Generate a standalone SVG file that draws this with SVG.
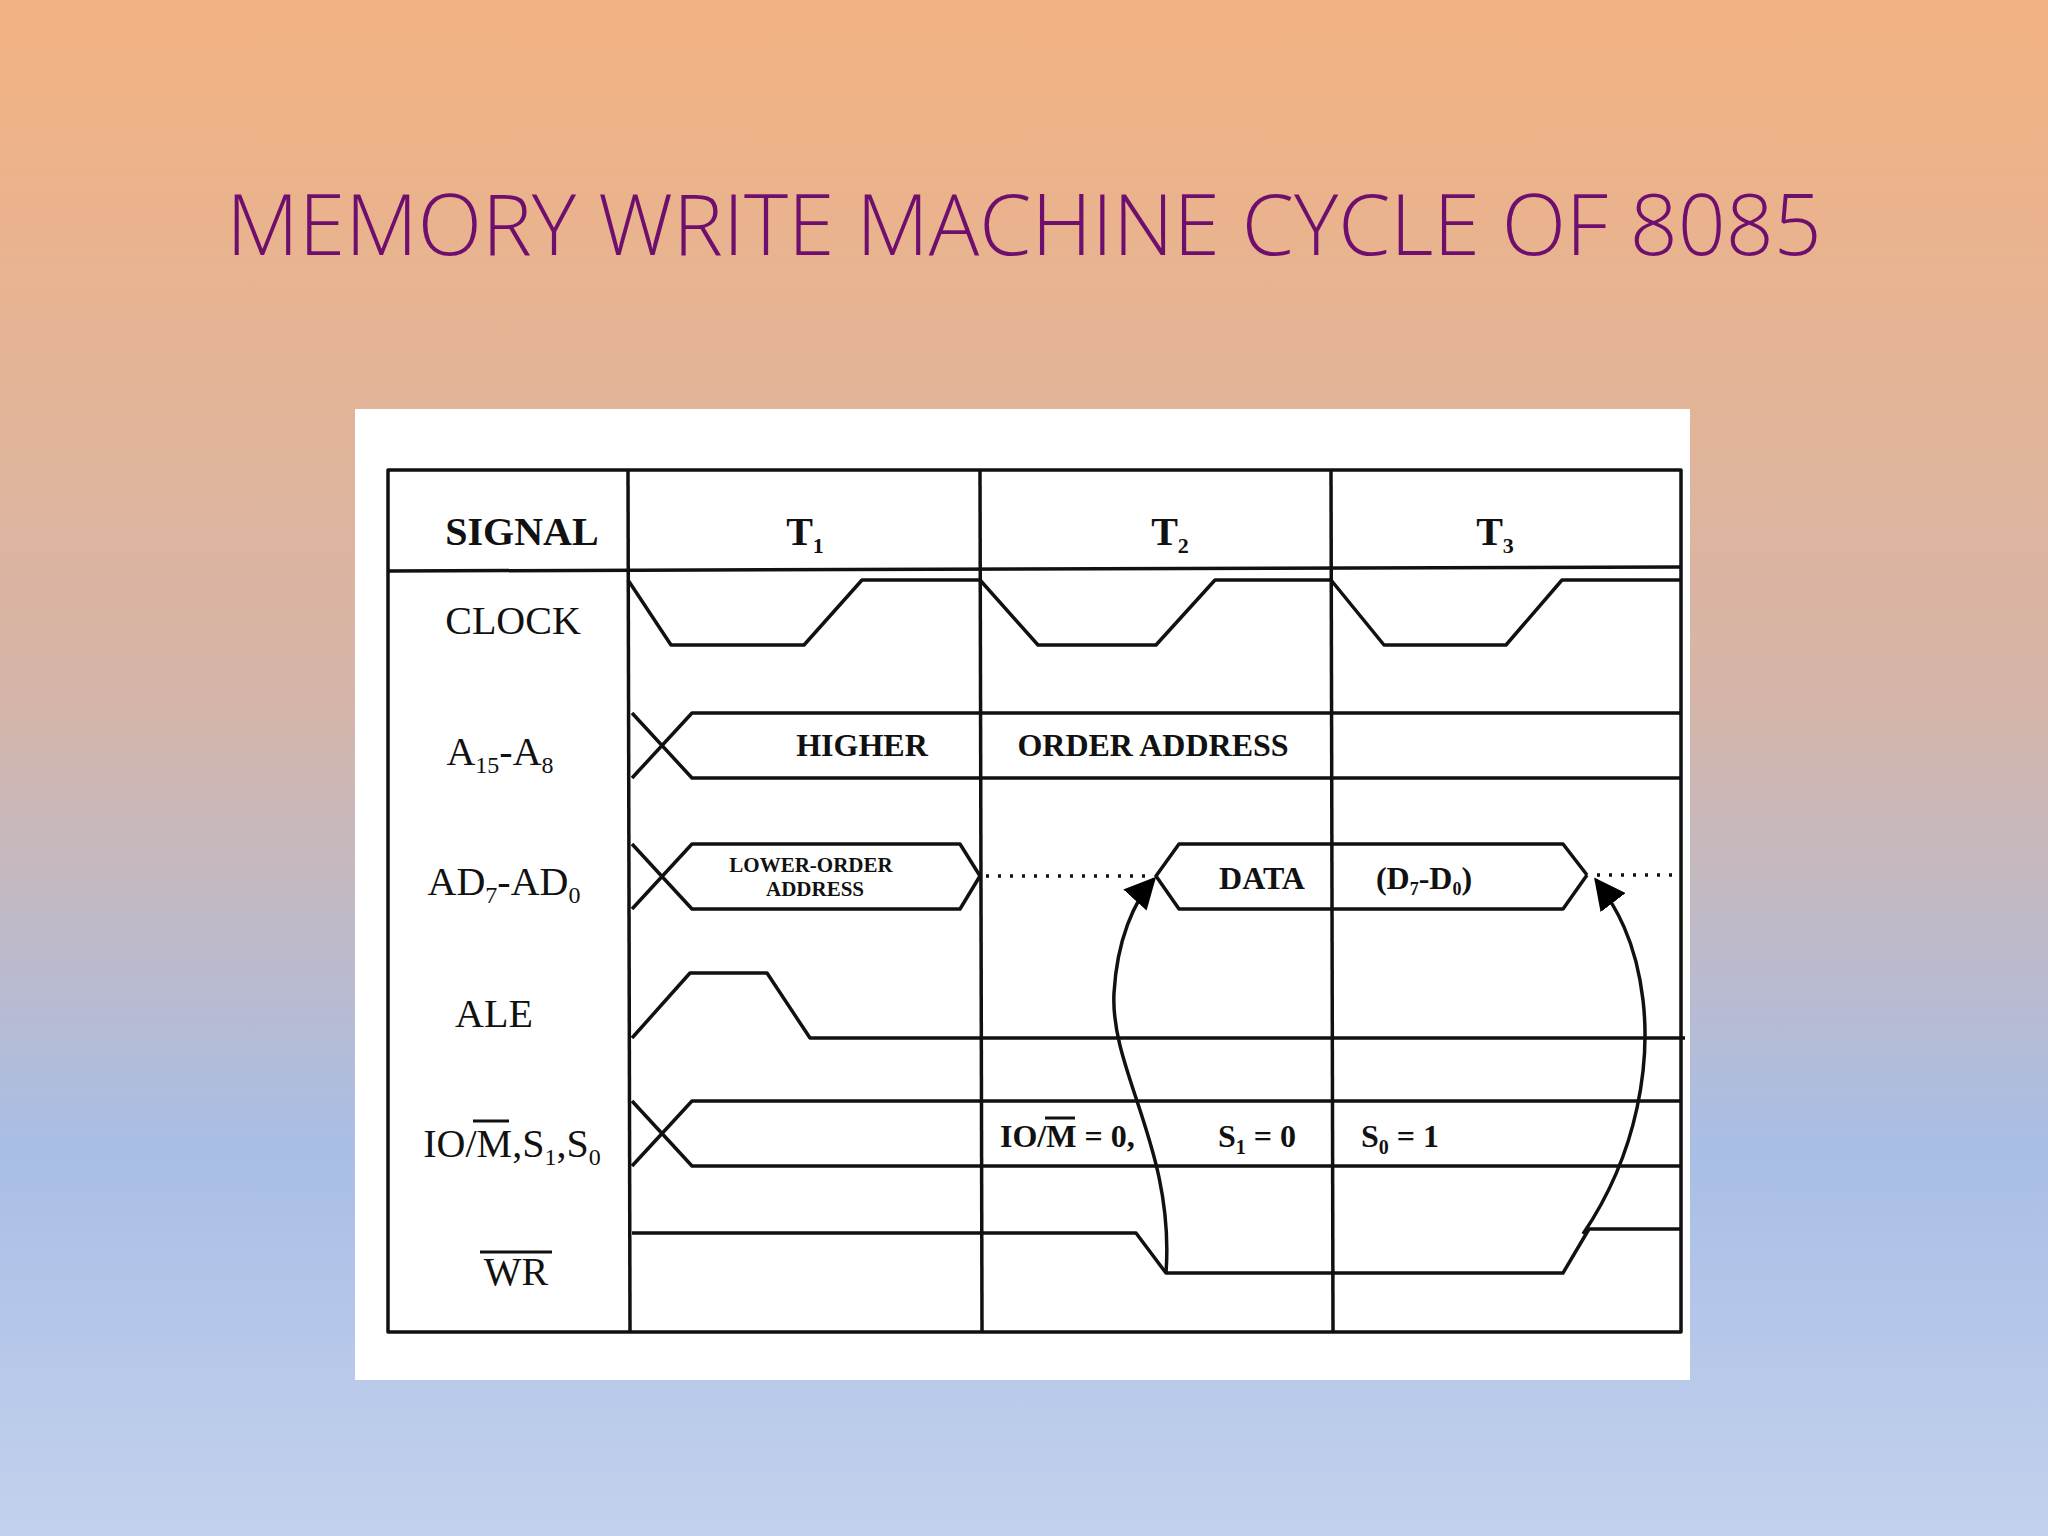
<svg xmlns="http://www.w3.org/2000/svg" width="2048" height="1536" viewBox="0 0 2048 1536">
<defs>
<linearGradient id="bg" x1="0" y1="0" x2="0" y2="1">
<stop offset="0" stop-color="#f3b281"/>
<stop offset="0.45" stop-color="#d6b5a8"/>
<stop offset="0.75" stop-color="#a9bee6"/>
<stop offset="1" stop-color="#c3d1ec"/>
</linearGradient>
<marker id="ah" viewBox="0 0 10 10" refX="9" refY="5" markerWidth="9" markerHeight="9" orient="auto"><path d="M0,0 L10,5 L0,10 z" fill="#000"/></marker>
<style>
.ln{fill:none;stroke:#111;stroke-width:3.5;stroke-linejoin:round}
.dot{fill:none;stroke:#111;stroke-width:3.5;stroke-dasharray:3 9}
.lb{font-family:"Liberation Serif",serif;font-size:40px;fill:#111;text-anchor:middle}
.hd{font-family:"Liberation Serif",serif;font-size:40px;font-weight:bold;fill:#111;text-anchor:middle}
.sm{font-family:"Liberation Serif",serif;font-size:32px;font-weight:bold;fill:#111;text-anchor:middle}
.st{text-anchor:start}
.xs{font-family:"Liberation Serif",serif;font-size:21px;font-weight:bold;fill:#111;text-anchor:middle}
</style>
</defs>
<rect width="2048" height="1536" fill="url(#bg)"/>
<text x="1024" y="255" font-family="'Open Sans',sans-serif" font-weight="300" font-size="84" fill="#6e0f6e" text-anchor="middle">MEMORY WRITE MACHINE CYCLE OF 8085</text>
<rect x="355" y="409" width="1335" height="971" fill="#fff"/>
<g id="table" class="ln">
<rect x="388" y="470" width="1293" height="862"/>
<line x1="388" y1="571" x2="1681" y2="567"/>
<line x1="628" y1="470" x2="630" y2="1332"/>
<line x1="980" y1="470" x2="982" y2="1332"/>
<line x1="1331" y1="470" x2="1333" y2="1332"/>
</g>
<g id="labels">
<text class="hd" x="522" y="545">SIGNAL</text>
<text class="hd" x="805" y="545">T<tspan font-size="22" dy="8">1</tspan></text>
<text class="hd" x="1170" y="545">T<tspan font-size="22" dy="8">2</tspan></text>
<text class="hd" x="1495" y="545">T<tspan font-size="22" dy="8">3</tspan></text>
<text class="lb" x="513" y="634">CLOCK</text>
<text class="lb" x="500" y="765">A<tspan font-size="24" dy="8">15</tspan><tspan dy="-8">-A</tspan><tspan font-size="24" dy="8">8</tspan></text>
<text class="lb" x="504" y="895">AD<tspan font-size="24" dy="8">7</tspan><tspan dy="-8">-AD</tspan><tspan font-size="24" dy="8">0</tspan></text>
<text class="lb" x="494" y="1027">ALE</text>
<text class="lb" x="512" y="1157">IO/M,S<tspan font-size="24" dy="8">1</tspan><tspan dy="-8">,S</tspan><tspan font-size="24" dy="8">0</tspan></text>
<line x1="473" y1="1121" x2="509" y2="1121" stroke="#111" stroke-width="3"/>
<text class="lb" x="516" y="1285">WR</text>
<line x1="480" y1="1252" x2="552" y2="1252" stroke="#111" stroke-width="3"/>
</g>
<g id="signals" class="ln">
<polyline points="628,580 671,645 804,645 862,580 980,580 1038,645 1156,645 1215,580 1331,580 1384,645 1506,645 1562,580 1681,580"/>
<polyline points="632,713 692,778 1681,778"/>
<polyline points="632,778 692,713 1681,713"/>
<polyline points="632,844 692,909 960,909 980,876 960,844 692,844 632,909"/>
<polyline points="1587,875 1563,844 1179,844 1156,876 1179,909 1563,909 1587,875"/>
<polyline points="632,1038 690,973 767,973 810,1038 1685,1038"/>
<polyline points="632,1101 692,1166 1681,1166"/>
<polyline points="632,1166 692,1101 1681,1101"/>
<polyline points="632,1233 1136,1233 1166,1273 1563,1273 1589,1229 1681,1229"/>
</g>
<g id="dotted">
<line class="dot" x1="986" y1="876" x2="1149" y2="876"/>
<line class="dot" x1="1597" y1="875" x2="1678" y2="875"/>
</g>
<g id="texts">
<text class="sm" x="862" y="756">HIGHER</text>
<text class="sm" x="1153" y="756">ORDER ADDRESS</text>
<text class="xs" x="811" y="872">LOWER-ORDER</text>
<text class="xs" x="815" y="896">ADDRESS</text>
<text class="sm" x="1262" y="889">DATA</text>
<text class="sm" x="1424" y="889">(D<tspan font-size="18" dy="6">7</tspan><tspan dy="-6">-D</tspan><tspan font-size="18" dy="6">0</tspan><tspan dy="-6">)</tspan></text>
<text class="sm st" x="1000" y="1147">IO/M = 0,</text>
<line x1="1045" y1="1118" x2="1075" y2="1118" stroke="#111" stroke-width="3"/>
<text class="sm st" x="1218" y="1147">S<tspan font-size="20" dy="7">1</tspan><tspan dy="-7"> = 0</tspan></text>
<text class="sm st" x="1361" y="1147">S<tspan font-size="20" dy="7">0</tspan><tspan dy="-7"> = 1</tspan></text>
</g>
<g id="connectors" class="ln">
<path d="M1166,1273 C1175,1149 1110,1071 1114,993 C1117,940 1134,901 1154,879" marker-end="url(#ah)"/>
<path d="M1583,1234 C1640,1150 1650,1060 1643,1000 C1636,940 1615,905 1596,880" marker-end="url(#ah)"/>
</g>
</svg>
